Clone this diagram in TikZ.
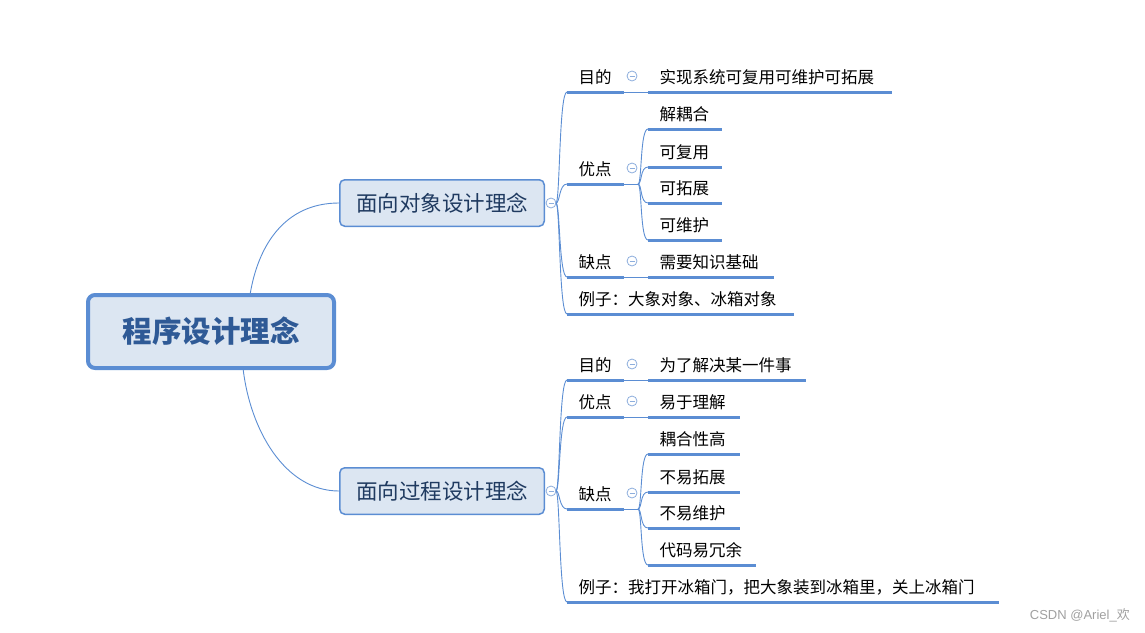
\documentclass[tikz,border=0pt]{standalone}
\usepackage{fontspec}
\setmainfont{Noto Sans CJK SC}
\newfontfamily\wmf{Liberation Sans}
\definecolor{ln}{HTML}{5B8DD3}
\definecolor{cb}{HTML}{8DAEDD}
\definecolor{bf}{HTML}{DCE6F2}
\definecolor{rt}{HTML}{2F5A96}
\definecolor{bt}{HTML}{1F3A60}
\definecolor{wm}{HTML}{A0A0A0}
\tikzset{
  tp/.style={inner sep=0pt, font=\fontsize{16.5}{18}\selectfont, text=black},
  ul/.style={draw=ln, line width=3pt},
  thin/.style={draw=ln, line width=0.9pt},
  cc/.style={circle, draw=cb, line width=0.8pt, minimum size=10pt, inner sep=0pt, fill=white,
    path picture={\draw[cb, line width=0.8pt] ([xshift=-2.5pt]path picture bounding box.center) -- ([xshift=2.5pt]path picture bounding box.center);}},
  rootbox/.style={draw=ln, fill=bf, line width=4pt, rounded corners=7pt, minimum width=246pt, minimum height=73pt, inner sep=0pt,
    text=rt, font=\fontsize{29.5}{32}\selectfont\bfseries},
  mainbox/.style={draw=ln, fill=bf, line width=1.5pt, rounded corners=5pt, minimum width=204.5pt, minimum height=46.5pt, inner sep=0pt,
    text=bt, font=\fontsize{21.5}{24}\selectfont},
}
\newcommand\tpc[5]{%
  \coordinate (#1-l) at (#2,#3);
  \coordinate (#1-r) at (#2+#4,#3);
  \node[tp, anchor=base west] (#1) at (#2+11.5,#3-9) {#5};
  \draw[ul] (#1-l) -- (#1-r);
}
\newcommand\brc[2]{% from branch point #1 to child coord #2
  \draw[thin] (#1) .. controls ([xshift=4pt]#1) and ([xshift=-8pt]#2) .. (#2);
}
\begin{document}
\begin{tikzpicture}[x=1pt,y=-1pt]
\useasboundingbox (0,0) rectangle (1145,632);

\node[rootbox] (root) at (211,331.5) {程序设计理念};
\node[mainbox] (o1) at (442,203) {面向对象设计理念};
\node[mainbox] (o2) at (442,491) {面向过程设计理念};

\draw[thin] ([xshift=39pt,yshift=-2pt]root.north) .. controls (258,245) and (285,203) .. (o1.west);
\draw[thin] ([xshift=32pt,yshift=2pt]root.south) .. controls (250,430) and (285,491) .. (o2.west);

\node[cc] (o1c) at (551,203) {};
\node[cc] (o2c) at (551,491) {};
\coordinate (o1b) at (556,203);
\coordinate (o2b) at (556,491);

% ---- object oriented
\tpc{a1}{567}{92}{57}{目的}
\node[cc] (a1o) at (632,76) {};
\tpc{a1c}{648}{92}{244}{实现系统可复用可维护可拓展}
\draw[thin] (a1-r) -- (a1c-l);

\tpc{a2}{567}{184}{57}{优点}
\node[cc] (a2o) at (632,168) {};
\coordinate (a2b) at (638,184);
\draw[thin] (a2-r) -- (a2b);
\tpc{a2x}{648}{129}{74}{解耦合}
\tpc{a2y}{648}{167}{74}{可复用}
\tpc{a2z}{648}{203}{74}{可拓展}
\tpc{a2w}{648}{240}{74}{可维护}
\brc{a2b}{a2x-l}
\brc{a2b}{a2y-l}
\brc{a2b}{a2z-l}
\brc{a2b}{a2w-l}

\tpc{a3}{567}{277}{57}{缺点}
\node[cc] (a3o) at (632,261) {};
\tpc{a3c}{648}{277}{126}{需要知识基础}
\draw[thin] (a3-r) -- (a3c-l);

\tpc{a4}{567}{314}{227}{例子：大象对象、冰箱对象}

\brc{o1b}{a1-l}
\brc{o1b}{a2-l}
\brc{o1b}{a3-l}
\brc{o1b}{a4-l}

% ---- procedure oriented
\tpc{b1}{567}{380}{57}{目的}
\node[cc] (b1o) at (632,364) {};
\tpc{b1c}{648}{380}{158}{为了解决某一件事}
\draw[thin] (b1-r) -- (b1c-l);

\tpc{b2}{567}{417}{57}{优点}
\node[cc] (b2o) at (632,401) {};
\tpc{b2c}{648}{417}{92}{易于理解}
\draw[thin] (b2-r) -- (b2c-l);

\tpc{b3}{567}{509}{57}{缺点}
\node[cc] (b3o) at (632,493) {};
\coordinate (b3b) at (638,509);
\draw[thin] (b3-r) -- (b3b);
\tpc{b3x}{648}{454}{92}{耦合性高}
\tpc{b3y}{648}{492}{92}{不易拓展}
\tpc{b3z}{648}{528}{92}{不易维护}
\tpc{b3w}{648}{565}{108}{代码易冗余}
\brc{b3b}{b3x-l}
\brc{b3b}{b3y-l}
\brc{b3b}{b3z-l}
\brc{b3b}{b3w-l}

\tpc{b4}{567}{602}{432}{例子：我打开冰箱门，把大象装到冰箱里，关上冰箱门}

\brc{o2b}{b1-l}
\brc{o2b}{b2-l}
\brc{o2b}{b3-l}
\brc{o2b}{b4-l}

\node[anchor=east, inner sep=0pt, text=wm, font=\fontsize{13}{15}\selectfont] (wmk) at (1130,615) {{\wmf CSDN @Ariel\_}欢};
\end{tikzpicture}
\end{document}
